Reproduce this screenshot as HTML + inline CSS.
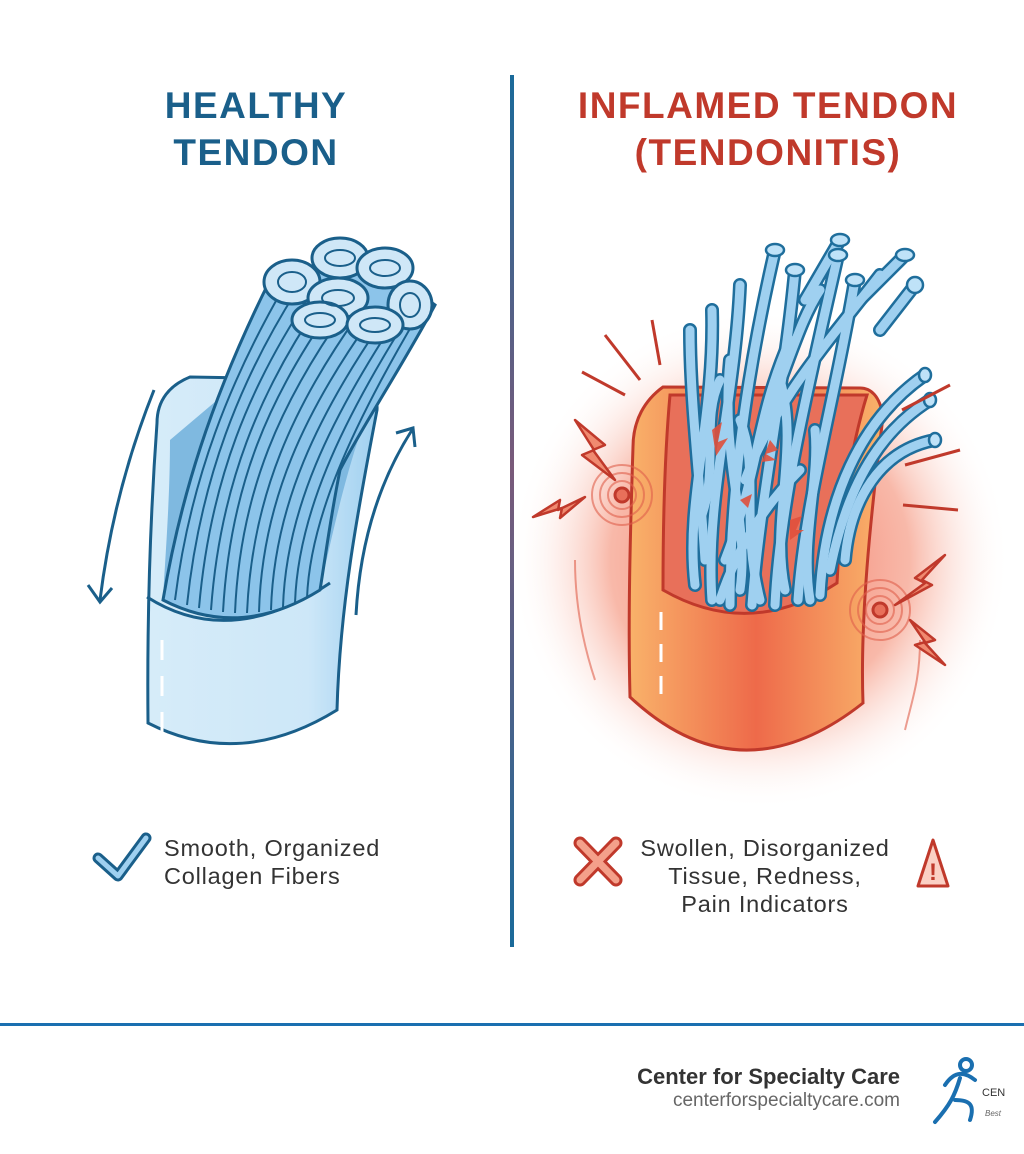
<!DOCTYPE html>
<html><head><meta charset="utf-8"><style>
html,body{margin:0;padding:0;background:#fff;}
body{width:1024px;height:1154px;position:relative;overflow:hidden;font-family:"Liberation Sans",sans-serif;}
.t{position:absolute;font-weight:bold;font-size:37px;text-align:center;line-height:47px;letter-spacing:1.5px;}
.l{position:absolute;font-size:23.5px;color:#333;line-height:28px;letter-spacing:0.8px;}
</style></head><body>
<svg width="1024" height="1154" style="position:absolute;left:0;top:0">
<defs>
<linearGradient id="dv" x1="0" y1="0" x2="0" y2="1">
<stop offset="0" stop-color="#1a6a9a"/><stop offset="0.45" stop-color="#7a5a7a"/><stop offset="1" stop-color="#1a6a9a"/></linearGradient>
<radialGradient id="glow" cx="760" cy="560" r="250" gradientUnits="userSpaceOnUse">
<stop offset="0" stop-color="#f0604a" stop-opacity="0.9"/><stop offset="0.6" stop-color="#f48a70" stop-opacity="0.6"/><stop offset="1" stop-color="#fff" stop-opacity="0"/></radialGradient>
<linearGradient id="or" x1="0" y1="0" x2="1" y2="0">
<stop offset="0" stop-color="#f9b26a"/><stop offset="0.5" stop-color="#ee6a4a"/><stop offset="1" stop-color="#f9b26a"/></linearGradient>
<linearGradient id="bl" x1="0" y1="0" x2="1" y2="0">
<stop offset="0" stop-color="#d6ecf9"/><stop offset="0.7" stop-color="#cde7f8"/><stop offset="1" stop-color="#9fd0f0"/></linearGradient>
</defs>
<rect x="510" y="75" width="4" height="872" fill="url(#dv)"/>
<rect x="0" y="1023" width="1024" height="3" fill="#1a6fb0"/>

<!-- LEFT -->
<path d="M190,377 C170,385 157,400 157,423 C150,520 147,620 148,723 Q240,770 337,710 C340,600 360,500 377,410 C378,395 370,385 360,380 Z" fill="url(#bl)" stroke="#1a5f8a" stroke-width="3"/>
<path d="M147,597 Q230,650 330,583" fill="none" stroke="#1a5f8a" stroke-width="3"/>
<path d="M170,440 C170,500 165,560 163,600 Q240,640 320,590 C335,520 350,460 365,420 L300,330 Z" fill="#7fb9e0"/>
<path d="M163,600 C180,500 210,400 270,280 L360,250 L435,305 C400,370 360,430 340,470 C330,520 325,560 320,590 Q240,640 163,600 Z" fill="#8cc4ea" stroke="#1a5f8a" stroke-width="3"/>
<g fill="none" stroke="#1a5f8a" stroke-width="2">
<path d="M175,600 C190,480 230,380 285,285"/><path d="M187,605 C200,480 240,380 297,290"/><path d="M199,608 C210,480 250,385 310,295"/>
<path d="M211,610 C220,485 260,390 322,300"/><path d="M223,612 C230,485 270,395 334,305"/><path d="M235,613 C240,490 282,400 346,310"/>
<path d="M247,613 C252,495 294,405 358,315"/><path d="M259,612 C262,500 306,410 370,320"/><path d="M271,610 C274,505 318,415 382,322"/>
<path d="M283,607 C286,510 330,420 394,322"/><path d="M295,603 C298,515 340,425 406,320"/><path d="M307,598 C310,520 350,430 418,315"/>
</g>
<g fill="#cfe7f7" stroke="#1a5f8a" stroke-width="3">
<ellipse cx="292" cy="282" rx="28" ry="22"/><ellipse cx="340" cy="258" rx="28" ry="20"/><ellipse cx="385" cy="268" rx="28" ry="20"/>
<ellipse cx="338" cy="298" rx="30" ry="20"/><ellipse cx="410" cy="305" rx="22" ry="24"/><ellipse cx="320" cy="320" rx="28" ry="18"/><ellipse cx="375" cy="325" rx="28" ry="18"/>
</g>
<g fill="none" stroke="#1a5f8a" stroke-width="2">
<ellipse cx="292" cy="282" rx="14" ry="10"/><ellipse cx="340" cy="258" rx="15" ry="8"/><ellipse cx="385" cy="268" rx="15" ry="8"/>
<ellipse cx="338" cy="298" rx="16" ry="8"/><ellipse cx="410" cy="305" rx="10" ry="12"/><ellipse cx="320" cy="320" rx="15" ry="7"/><ellipse cx="375" cy="325" rx="15" ry="7"/>
</g>
<path d="M154,390 C130,450 110,520 100,600" fill="none" stroke="#1a5f8a" stroke-width="3"/>
<path d="M88,585 L100,602 L112,588" fill="none" stroke="#1a5f8a" stroke-width="3"/>
<path d="M356,615 C360,540 380,480 412,430" fill="none" stroke="#1a5f8a" stroke-width="3"/>
<path d="M396,433 L413,428 L415,447" fill="none" stroke="#1a5f8a" stroke-width="3"/>
<path d="M162,640 L162,735" stroke="#fff" stroke-width="3" stroke-dasharray="20,16"/>

<!-- RIGHT -->
<ellipse cx="760" cy="560" rx="250" ry="260" fill="url(#glow)"/>
<path d="M663,387 C645,400 633,420 633,447 C630,540 628,620 630,697 Q740,800 863,703 C860,620 870,520 883,417 C880,395 870,388 860,388 Z" fill="url(#or)" stroke="#c0392b" stroke-width="3"/>
<path d="M670,395 C665,450 663,520 663,590 Q750,640 837,583 C840,520 850,450 867,395 Z" fill="#e8705a" stroke="#c0392b" stroke-width="3"/>
<g id="fib" fill="none" stroke-linecap="round">
<path d="M695,585 C685,500 715,420 712,310"/><path d="M712,600 C705,500 735,400 740,285"/><path d="M730,605 C730,500 745,380 775,250"/>
<path d="M752,605 C760,500 785,380 795,270"/><path d="M775,605 C780,500 810,380 838,255"/><path d="M798,600 C805,500 835,400 855,280"/>
<path d="M820,595 C825,500 860,420 925,375"/><path d="M830,570 C850,470 890,425 930,400"/><path d="M725,560 C760,470 755,420 790,340"/>
<path d="M745,480 C775,400 830,340 880,275"/><path d="M805,300 L840,240"/><path d="M860,300 L905,255"/><path d="M880,330 L915,285"/>
<path d="M760,600 C740,520 760,470 740,420"/><path d="M810,600 C800,540 820,480 815,430"/>
<path d="M705,560 C700,480 690,400 690,330"/><path d="M740,590 C750,520 720,460 730,360"/><path d="M785,590 C770,520 800,450 780,380"/>
<path d="M700,520 C720,470 700,420 720,380"/><path d="M845,560 C850,500 880,450 935,440"/><path d="M765,420 C790,360 800,320 820,290"/>
<path d="M720,600 C740,540 770,500 800,470"/>
</g>
<use href="#fib" stroke="#1f6e9c" stroke-width="14"/>
<use href="#fib" stroke="#9fd0f0" stroke-width="9"/>
<g fill="#bfe2f8" stroke="#1f6e9c" stroke-width="2.5">
<ellipse cx="775" cy="250" rx="9" ry="6"/><ellipse cx="838" cy="255" rx="9" ry="6"/><ellipse cx="840" cy="240" rx="9" ry="6"/>
<ellipse cx="905" cy="255" rx="9" ry="6"/><ellipse cx="915" cy="285" rx="8" ry="8"/><ellipse cx="930" cy="400" rx="6" ry="7"/><ellipse cx="925" cy="375" rx="6" ry="7"/>
<ellipse cx="795" cy="270" rx="9" ry="6"/><ellipse cx="855" cy="280" rx="9" ry="6"/><ellipse cx="935" cy="440" rx="6" ry="7"/>
</g>
<g fill="#e0503c" opacity="0.9"><path d="M712,430 l10,-8 l-4,20 l10,-4 l-12,18 z"/><path d="M770,440 l8,10 l-12,4 l10,6 l-14,2z"/><path d="M740,500 l12,-6 l-4,14 z"/><path d="M790,520 l12,-4 l-6,14 l8,0 l-14,10z"/></g>
<g stroke="#c0392b" stroke-width="3" fill="none">
<path d="M605,335 L640,380"/><path d="M652,320 L660,365"/><path d="M582,372 L625,395"/>
<path d="M902,410 L950,385"/><path d="M905,465 L960,450"/><path d="M903,505 L958,510"/>
</g>
<g fill="none" stroke="#e0604c" stroke-width="2" opacity="0.6">
<circle cx="622" cy="495" r="14"/><circle cx="622" cy="495" r="22"/><circle cx="622" cy="495" r="30"/>
<circle cx="880" cy="610" r="14"/><circle cx="880" cy="610" r="22"/><circle cx="880" cy="610" r="30"/>
<path d="M575,560 C575,610 585,650 595,680"/><path d="M920,640 C920,680 912,700 905,730"/>
</g>
<circle cx="622" cy="495" r="7" fill="#e8705a" stroke="#c0392b" stroke-width="3"/>
<circle cx="880" cy="610" r="7" fill="#e8705a" stroke="#c0392b" stroke-width="3"/>
<g fill="#f08a70" stroke="#c0392b" stroke-width="2.5" stroke-linejoin="round">
<path d="M575,420 L605,445 L593,450 L615,480 L582,455 L594,450 Z"/>
<path d="M533,517 L560,500 L558,510 L585,497 L560,518 L562,508 Z"/>
<path d="M945,555 L915,578 L925,583 L895,605 L932,585 L922,580 Z"/>
<path d="M910,620 L935,640 L925,643 L945,665 L915,645 L925,642 Z"/>
</g>
<path d="M661,612 L661,700" stroke="#fff" stroke-width="3" stroke-dasharray="18,14"/>

<!-- icons -->
<path d="M98,858 L118,876 L146,838" fill="none" stroke="#1a5f8a" stroke-width="11" stroke-linecap="round" stroke-linejoin="round"/>
<path d="M98,858 L118,876 L146,838" fill="none" stroke="#9fd0f0" stroke-width="5" stroke-linecap="round" stroke-linejoin="round"/>
<path d="M580,843 L616,880 M616,843 L580,880" stroke="#c0392b" stroke-width="13" stroke-linecap="round"/>
<path d="M580,843 L616,880 M616,843 L580,880" stroke="#f4a08a" stroke-width="7" stroke-linecap="round"/>
<path d="M933,840 L948,886 L918,886 Z" fill="#fbd0c4" stroke="#c0392b" stroke-width="3" stroke-linejoin="round"/>
<text x="933" y="880" font-family="Liberation Sans" font-weight="bold" font-size="24" fill="#c0392b" text-anchor="middle">!</text>

<!-- logo -->
<g fill="none" stroke="#1a6fb0" stroke-width="4" stroke-linecap="round">
<circle cx="966" cy="1065" r="6"/>
<path d="M945,1085 C955,1070 965,1072 975,1080"/><path d="M960,1078 C955,1095 950,1105 935,1122"/>
<path d="M955,1100 C970,1100 975,1105 970,1120"/>
</g>
<text x="982" y="1096" font-family="Liberation Sans" font-size="11" fill="#333">CEN</text>
<text x="985" y="1116" font-family="Liberation Sans" font-size="8" font-style="italic" fill="#666">Best</text>
</svg>
<div class="t" style="left:56px;width:400px;top:82px;color:#1a5f8a">HEALTHY<br>TENDON</div>
<div class="t" style="left:518px;width:500px;top:82px;color:#c0392b">INFLAMED TENDON<br>(TENDONITIS)</div>
<div class="l" style="left:164px;top:834px">Smooth, Organized<br>Collagen Fibers</div>
<div class="l" style="left:615px;width:300px;top:834px;text-align:center">Swollen, Disorganized<br>Tissue, Redness,<br>Pain Indicators</div>
<div style="position:absolute;right:124px;top:1064px;text-align:right;">
<div style="font-weight:bold;font-size:22px;color:#333;line-height:26px">Center for Specialty Care</div>
<div style="font-size:19px;color:#666;line-height:22px">centerforspecialtycare.com</div>
</div>
</body></html>
